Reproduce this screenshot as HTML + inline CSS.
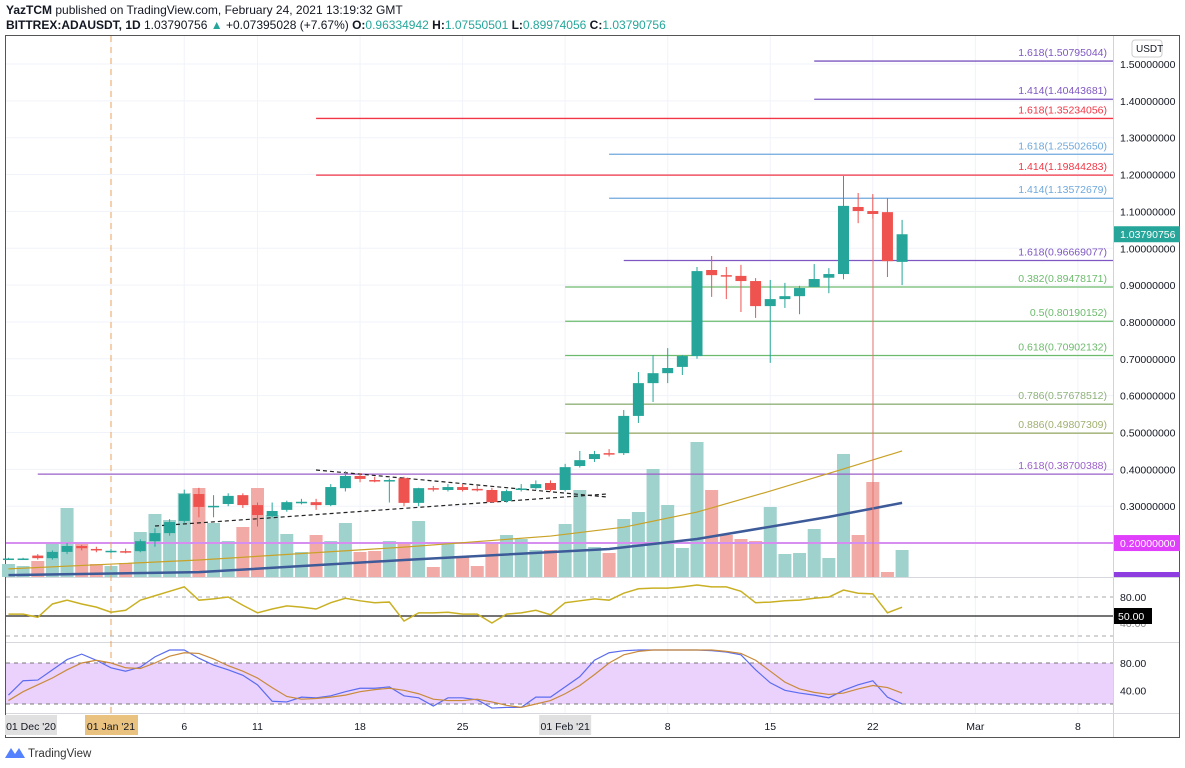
<!DOCTYPE html>
<html><head><meta charset="utf-8"><style>
html,body{margin:0;padding:0;background:#fff;width:1185px;height:768px;overflow:hidden;font-family:"Liberation Sans",sans-serif}
#hdr1{position:absolute;left:6px;top:3px;font-size:12px;color:#131722}
#hdr2{position:absolute;left:6px;top:18px;font-size:12px;color:#131722}
.g{color:#26a69a}
svg{position:absolute;left:0;top:0}
</style></head><body>
<div id="hdr1"><b>YazTCM</b> published on TradingView.com, February 24, 2021 13:19:32 GMT</div>
<div id="hdr2"><b>BITTREX:ADAUSDT, 1D</b> 1.03790756 <span class="g">▲</span> +0.07395028 (+7.67%) <b>O:</b><span class="g">0.96334942</span> <b>H:</b><span class="g">1.07550501</span> <b>L:</b><span class="g">0.89974056</span> <b>C:</b><span class="g">1.03790756</span></div>
<svg id="chart" width="1185" height="768" font-family="Liberation Sans, sans-serif"></svg>
<script>
const days=[-7,-6,-5,-4,-3,-2,-1,0,1,2,3,4,5,6,7,8,9,10,11,12,13,14,15,16,17,18,19,20,21,22,23,24,25,26,27,28,29,30,31,32,33,34,35,36,37,38,39,40,41,42,43,44,45,46,47,48,49,50,51,52,53,54];
const opens=[.157,.157,.166,.159,.176,.192,.184,.178,.178,.178,.205,.227,.260,.333,.300,.306,.330,.303,.273,.290,.311,.311,.303,.349,.382,.371,.368,.376,.309,.349,.344,.352,.347,.344,.314,.347,.349,.363,.344,.409,.428,.444,.444,.545,.634,.661,.678,.7075,.941,.927,.925,.911,.843,.862,.870,.895,.920,.930,1.112,1.101,1.098,.963];
const closes=[.158,.158,.159,.176,.192,.186,.183,.179,.177,.205,.227,.257,.333,.298,.301,.328,.303,.276,.287,.311,.312,.303,.352,.382,.374,.370,.371,.309,.349,.348,.352,.344,.346,.311,.341,.348,.360,.344,.406,.425,.4415,.443,.545,.634,.661,.675,.7075,.938,.927,.926,.911,.843,.862,.870,.892,.9165,.930,1.115,1.101,1.093,.965,1.038];
const highs=[.16,.16,.17,.18,.20,.195,.19,.185,.185,.21,.24,.265,.345,.35,.33,.335,.335,.31,.31,.315,.32,.32,.36,.395,.39,.38,.375,.38,.35,.355,.36,.36,.355,.35,.345,.36,.37,.37,.415,.45,.45,.455,.561,.664,.71,.729,.71,.949,.979,.949,.955,.919,.914,.906,.898,.957,.946,1.196,1.15,1.147,1.136,1.077];
const lows=[.155,.155,.155,.155,.17,.18,.175,.172,.172,.175,.19,.22,.255,.27,.27,.30,.295,.245,.27,.285,.305,.29,.30,.34,.365,.365,.31,.30,.30,.34,.34,.34,.34,.31,.31,.34,.345,.34,.34,.405,.42,.435,.439,.526,.583,.634,.656,.70,.868,.862,.827,.811,.689,.838,.821,.895,.878,.916,1.068,1.08,.922,.90];
const volumes=[13,11,16,35,69,35,13,11,14,45,63,57,84,89,54,36,50,89,62,43,25,42,36,54,25,26,36,34,56,10,33,20,11,34,42,38,27,27,53,87,30,24,58,65,108,72,29,135,87,42,38,36,70,23,24,48,19,123,42,95,5,27];
const rsi=[53,53,48,69,75,69,64,56,59,75,82,89,96,75,77,80,67,55,61,66,64,61,71,78,74,71,72,42,55,55,56,53,53,39,53,55,59,52,71,74,77,75,86,93,94,94,96,99,96,96,89,71,72,74,75,78,80,91,86,85,55,64];
const stochK=[33,54,55,70,85,93,84,73,68,74,89,99,99,87,77,70,62,48,24,23,30,29,32,38,43,43,45,32,29,17,29,29,26,14,15,15,30,30,45,60,84,95,98,99,99,99,99,99,98,96,92,70,51,40,36,33,29,40,48,54,30,20];
const stochD=[25,38,48,58,70,80,84,80,73,72,80,90,95,94,86,76,68,58,44,31,27,28,30,33,38,41,43,40,35,27,25,25,27,23,18,15,20,25,35,47,63,80,92,97,99,99,99,99,99,97,94,84,68,52,42,37,34,36,42,47,44,36];
const maFastDays=[-7,6,20,30,35,40,45,50,54];
const maFastVals=[0.130,0.154,0.189,0.219,0.243,0.284,0.341,0.401,0.450];
const maSlowDays=[-7,6,20,34,40,49,54];
const maSlowVals=[0.113,0.121,0.154,0.184,0.211,0.271,0.309];
const priceTicks=[1.5,1.4,1.3,1.2,1.1,1.0,0.9,0.8,0.7,0.6,0.5,0.4,0.3];
const fibLevels=[1.50795044,1.40443681,1.35234056,1.25502650,1.19844283,1.13572679,0.96669077,0.89478171,0.80190152,0.70902132,0.57678512,0.49807309,0.38700388];
const fibRatios=["1.618","1.414","1.618","1.618","1.414","1.414","1.618","0.382","0.5","0.618","0.786","0.886","1.618"];
const fibStartDays=[48,48,14,34,14,34,35,31,31,31,31,31,-5];
const fibColors=["#7e57c2","#7e57c2","#f23645","#6fa8dc","#f23645","#6fa8dc","#7e57c2","#6dbb6d","#6dbb6d","#6dbb6d","#8fb27a","#a0b070","#9c5fc9"];
const timeLabels=["01 Dec '20","01 Jan '21","6","11","18","25","01 Feb '21","8","15","22","Mar","8"];
const timeLabelDays=[-29.5,0,5,10,17,24,31,38,45,52,59,66];

const svg=document.getElementById('chart');
const NS='http://www.w3.org/2000/svg';
const xD=d=>111+d*14.65;
const yP=p=>64+(1.5-p)*368.5;
const yR=v=>616-(v-50)*0.633;
const yS=v=>663+(80-v)*0.683;
const yV=v=>577-v;
function mk(tag,attrs,parent){const e=document.createElementNS(NS,tag);for(const k in attrs)e.setAttribute(k,attrs[k]);(parent||svg).appendChild(e);return e;}
function txt(x,y,s,attrs){const e=mk('text',Object.assign({x:x,y:y,'font-size':11,fill:'#131722'},attrs||{}));e.textContent=s;return e;}

// frame & grid
const frame=mk('rect',{x:5.5,y:35.5,width:1174,height:702,fill:'none',stroke:'#555','stroke-width':1});

for(let i=0;i<timeLabelDays.length;i++){const gl=mk('line',{x1:xD(timeLabelDays[i]),x2:xD(timeLabelDays[i]),y1:36,y2:713,stroke:'#f0f3fa'});}
priceTicks.forEach(p=>{const gl=mk('line',{x1:6,x2:1113,y1:yP(p),y2:yP(p),stroke:'#f0f3fa'});});
const ax=mk('line',{x1:1113.5,x2:1113.5,y1:36,y2:737,stroke:'#d0d3da'});
[577.5,642.5,713.5].forEach(y=>{const l=mk('line',{x1:6,x2:1179,y1:y,y2:y,stroke:'#d6d8de'});});

// volume
const vg=mk('g',{});
days.forEach((d,i)=>{const up=closes[i]>=opens[i];const r=mk('rect',{x:xD(d)-6.5,y:yV(volumes[i]),width:13,height:volumes[i],fill:up?'#9fd2cd':'#f2aaa6'},vg);});

// fib lines
fibLevels.forEach((p,i)=>{const y=yP(p);const l=mk('line',{x1:xD(fibStartDays[i]),x2:1113,y1:y,y2:y,stroke:fibColors[i],'stroke-width':1.3});
const t=txt(1107,y-5,fibRatios[i]+'('+p.toFixed(8)+')',{'text-anchor':'end',fill:fibColors[i],'font-size':10.5});});
const mag=mk('line',{x1:6,x2:1113,y1:yP(0.2),y2:yP(0.2),stroke:'#d68ef0','stroke-width':2});

// MAs
function poly(ds,vs,col,w,name){const pts=ds.map((d,i)=>xD(d)+','+yP(vs[i])).join(' ');const p=mk('polyline',{points:pts,fill:'none',stroke:col,'stroke-width':w});}
poly(maFastDays,maFastVals,'#c9a227',1.2,'ma-fast');
poly(maSlowDays,maSlowVals,'#3d5a99',2.5,'ma-slow');

// trendlines
const t1=mk('line',{x1:316,y1:470,x2:607,y2:497,stroke:'#222','stroke-dasharray':'4,3','stroke-width':1.2});
const t2=mk('line',{x1:155,y1:526,x2:607,y2:494,stroke:'#222','stroke-dasharray':'4,3','stroke-width':1.2});

// candles
const cg=mk('g',{});
days.forEach((d,i)=>{const up=closes[i]>=opens[i];const col=up?'#26a69a':'#ef5350';const x=xD(d);
const w=mk('line',{x1:x,x2:x,y1:yP(highs[i]),y2:yP(lows[i]),stroke:col,'stroke-width':1},cg);
const top=yP(Math.max(opens[i],closes[i])),bot=yP(Math.min(opens[i],closes[i]));
const b=mk('rect',{x:x-5.5,y:top,width:11,height:Math.max(1.5,bot-top),fill:col},cg);});

// vertical markers
const vl=mk('line',{x1:111,x2:111,y1:36,y2:713,stroke:'#e8a25a','stroke-dasharray':'6,5'});
const vr=mk('line',{x1:873,x2:873,y1:yP(1.093),y2:577,stroke:'#e8736a','stroke-width':1});

// price axis labels
priceTicks.forEach(p=>{const t=txt(1120,yP(p)+4,p.toFixed(8),{'font-size':10.5});});
const ub=mk('rect',{x:1132,y:40,width:30,height:17,rx:3,fill:'#fff',stroke:'#ccc'});
txt(1136,52,'USDT',{'font-size':10});
const cb=mk('rect',{x:1114,y:yP(1.038)-8,width:66,height:16,fill:'#26a69a'});
txt(1120,yP(1.038)+4,'1.03790756',{fill:'#fff','font-size':10.5});
const mb=mk('rect',{x:1114,y:yP(0.2)-8,width:66,height:16,fill:'#e040fb'});
txt(1120,yP(0.2)+4,'0.20000000',{fill:'#fff','font-size':10.5});
const mb2=mk('rect',{x:1114,y:572,width:66,height:5,fill:'#8e3de0'});

// RSI pane
[597,636].forEach(y=>{const l=mk('line',{x1:6,x2:1113,y1:y,y2:y,stroke:'#aaa','stroke-dasharray':'4,4'});});
const l50=mk('line',{x1:6,x2:1113,y1:616,y2:616,stroke:'#222','stroke-width':1.2});
const rp=mk('polyline',{points:days.map((d,i)=>xD(d)+','+yR(rsi[i])).join(' '),fill:'none',stroke:'#c9b023','stroke-width':1.5});
txt(1120,601,'80.00',{'font-size':10.5});
txt(1120,627,'40.00',{'font-size':10.5,fill:'#888'});
const rb=mk('rect',{x:1114,y:608,width:38,height:16,fill:'#000'});
txt(1118,620,'50.00',{fill:'#fff','font-size':10.5});

// Stoch pane
const sf=mk('rect',{x:6,y:yS(80),width:1107,height:yS(20)-yS(80),fill:'#ead2fd'});
[80,20].forEach(v=>{const l=mk('line',{x1:6,x2:1113,y1:yS(v),y2:yS(v),stroke:'#777','stroke-dasharray':'4,4'});});
const sk=mk('polyline',{points:days.map((d,i)=>xD(d)+','+yS(stochK[i])).join(' '),fill:'none',stroke:'#5b6cf0','stroke-width':1.2});
const sd=mk('polyline',{points:days.map((d,i)=>xD(d)+','+yS(stochD[i])).join(' '),fill:'none',stroke:'#c98a3a','stroke-width':1.2});
txt(1120,yS(80)+4,'80.00',{'font-size':10.5});
txt(1120,yS(40)+4,'40.00',{'font-size':10.5});

// time axis
timeLabels.forEach((s,i)=>{let x=xD(timeLabelDays[i]);if(i===0)x=31;
if(i===0||i===6){const b=mk('rect',{x:x-26,y:715,width:52,height:20,fill:'#e0e0e0'});}
if(i===1){const b=mk('rect',{x:x-26,y:715,width:53,height:20,fill:'#e9c27f'});}
const t=txt(x,730,s,{'text-anchor':'middle','font-size':10.5});});

// logo
const lg=mk('g',{});
mk('path',{d:'M5 758 L11 748 L15 754 L19 748 L25 758 Z',fill:'#2962ff',opacity:0.8},lg);
const lt=txt(28,757,'TradingView',{'font-size':11.5,fill:'#333'});
</script>
</body></html>
